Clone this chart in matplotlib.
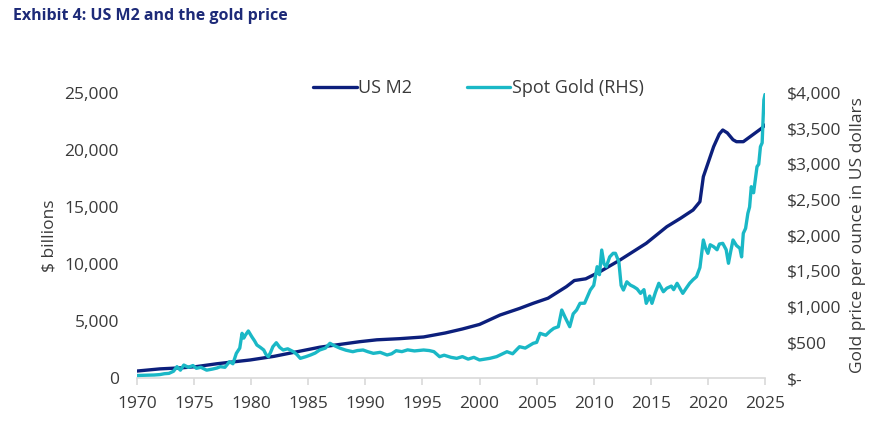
import matplotlib
matplotlib.use("Agg")
import matplotlib.pyplot as plt
from matplotlib.ticker import FuncFormatter

#Data (x = position on the year axis)
m2_years = [1970.0, 1972.0, 1974.0, 1975.2, 1977.0, 1979.9, 1982.0, 1984.0, 1986.0,
            1987.8, 1989.5, 1991.0, 1993.0, 1995.1, 1997.0, 1998.5, 2000.0, 2001.8,
            2003.5, 2004.7, 2006.0, 2007.6, 2008.3, 2009.3, 2010.5, 2012.3, 2014.6,
            2016.4, 2017.6, 2018.7, 2019.3, 2019.6, 2019.9, 2020.5, 2021.0, 2021.3,
            2021.7, 2022.2, 2022.5, 2023.1, 2023.9, 2024.7, 2025.0]
m2_values = [610, 800, 900, 1000, 1250, 1580, 1900, 2300, 2700,
             2950, 3184, 3350, 3450, 3600, 3950, 4300, 4700, 5526,
             6100, 6553, 7000, 8009, 8550, 8700, 9300, 10351, 11816,
             13272, 14009, 14737, 15465, 17658, 18535, 20290, 21400, 21754,
             21500, 20900, 20729, 20729, 21316, 21902, 22193]

gold_years = [1970.0, 1970.5, 1971.0, 1971.5, 1972.0, 1972.4, 1972.8, 1973.2, 1973.5, 1973.8,
              1974.1, 1974.5, 1974.9, 1975.2, 1975.6, 1976.1, 1976.6, 1977.0, 1977.3, 1977.7,
              1978.1, 1978.4, 1978.7, 1979.0, 1979.2, 1979.35, 1979.5, 1979.75, 1980.05, 1980.3,
              1980.5, 1980.8, 1981.1, 1981.3, 1981.5, 1981.7, 1981.9, 1982.2, 1982.5, 1982.8,
              1983.2, 1983.7, 1984.0, 1984.3, 1984.8, 1985.2, 1985.6, 1986.0, 1986.5, 1986.9,
              1987.2, 1987.5, 1987.8, 1988.3, 1988.9, 1989.3, 1989.8, 1990.2, 1990.7, 1991.3,
              1991.9, 1992.3, 1992.7, 1993.2, 1993.7, 1994.3, 1995.1, 1995.6, 1996.0, 1996.5,
              1996.9, 1997.5, 1998.0, 1998.5, 1999.0, 1999.5, 2000.0, 2000.5, 2000.9, 2001.5,
              2001.8, 2002.4, 2002.9, 2003.5, 2004.0, 2004.7, 2005.0, 2005.3, 2005.8, 2006.2,
              2006.5, 2006.9, 2007.2, 2007.5, 2007.9, 2008.2, 2008.5, 2008.8, 2009.2, 2009.7,
              2010.0, 2010.3, 2010.5, 2010.7, 2010.9, 2011.1, 2011.4, 2011.7, 2011.9, 2012.2,
              2012.4, 2012.6, 2012.9, 2013.2, 2013.5, 2013.8, 2014.1, 2014.4, 2014.6, 2014.9,
              2015.1, 2015.4, 2015.7, 2016.1, 2016.4, 2016.8, 2017.0, 2017.3, 2017.8, 2018.1,
              2018.4, 2018.7, 2019.0, 2019.3, 2019.6, 2019.8, 2020.0, 2020.2, 2020.5, 2020.8,
              2021.0, 2021.3, 2021.6, 2021.8, 2022.0, 2022.2, 2022.5, 2022.8, 2022.95, 2023.1,
              2023.3, 2023.5, 2023.65, 2023.8, 2024.0, 2024.3, 2024.45, 2024.6, 2024.75, 2024.9,
              2025.0]
gold_values = [35, 38, 40, 42, 48, 60, 65, 95, 159, 110,
               182, 150, 175, 136, 150, 110, 125, 140, 159, 150,
               229, 200, 346, 420, 627, 560, 603, 660, 580, 520,
               463, 430, 393, 330, 299, 360, 439, 495, 430, 393,
               410, 369, 330, 276, 300, 323, 350, 393, 420, 487,
               460, 439, 417, 390, 369, 385, 393, 370, 346, 360,
               323, 340, 383, 370, 395, 380, 393, 385, 370, 299,
               320, 290, 276, 300, 265, 290, 253, 265, 276, 300,
               323, 369, 340, 439, 420, 487, 500, 627, 600, 660,
               697, 720, 954, 850, 720, 900, 954, 1048, 1050, 1235,
               1300, 1562, 1450, 1796, 1600, 1562, 1700, 1750, 1750, 1632,
               1300, 1235, 1350, 1305, 1281, 1250, 1188, 1240, 1048, 1150,
               1048, 1200, 1329, 1211, 1260, 1290, 1240, 1329, 1188, 1260,
               1329, 1380, 1422, 1550, 1937, 1820, 1750, 1870, 1843, 1800,
               1880, 1890, 1800, 1610, 1780, 1937, 1860, 1820, 1700, 2031,
               2100, 2311, 2400, 2685, 2600, 2966, 3000, 3246, 3300, 3902,
               3980]

year_ticks = list(range(1970, 2030, 5))

navy = "#0c1f7c"
cyan = "#1ab8c6"
text_col = "#3a3a3a"
grid_col = "#d9d9d9"
fs = 12.5

plt.rcParams["font.family"] = ["Open Sans", "DejaVu Sans"]

fig = plt.figure(figsize=(8.86, 4.30), dpi=100)
ax = fig.add_axes([137 / 886, 1 - 378 / 430, (765 - 137) / 886, (378 - 93) / 430])
ax2 = ax.twinx()

l1, = ax.plot(m2_years, m2_values, color=navy, lw=2.4, solid_capstyle="round")
l2, = ax2.plot(gold_years, gold_values, color=cyan, lw=2.4, solid_capstyle="round")

ax.set_xlim(1970, 2025)
ax.set_ylim(0, 25000)
ax2.set_ylim(0, 4000)
ax.set_xticks(year_ticks)
ax.set_yticks(range(0, 25001, 5000))
ax2.set_yticks(range(0, 4001, 500))
ax.yaxis.set_major_formatter(FuncFormatter(lambda v, p: f"{v:,.0f}"))
ax2.yaxis.set_major_formatter(FuncFormatter(lambda v, p: "$-" if v == 0 else f"${v:,.0f}"))

for a in (ax, ax2):
    for s in a.spines.values():
        s.set_visible(False)
ax.spines["bottom"].set_visible(True)
ax.spines["bottom"].set_color(grid_col)
ax.spines["bottom"].set_linewidth(1.2)

ax.tick_params(axis="x", length=5, width=1.2, color=grid_col, pad=8, labelsize=fs, labelcolor=text_col)
ax.tick_params(axis="y", length=0, pad=13, labelsize=fs, labelcolor=text_col)
ax2.tick_params(axis="y", length=0, pad=16, labelsize=fs, labelcolor=text_col)

ax.set_ylabel("$ billions", fontsize=fs, color=text_col, labelpad=5)
ax2.set_ylabel("Gold price per ounce in US dollars", fontsize=fs, color=text_col, labelpad=6)

fig.legend([l1, l2], ["US M2", "Spot Gold (RHS)"], loc="center", bbox_to_anchor=(0.54, 1 - 88 / 430),
           ncol=2, frameon=False, fontsize=13, handlelength=2.4, handletextpad=0.1,
           columnspacing=3.0, labelcolor=text_col)

fig.text(13 / 886, 1 - 16 / 430, "Exhibit 4: US M2 and the gold price", fontsize=11.5,
         fontweight="bold", color="#1d2a78", va="center", ha="left")

fig.savefig("out.png", dpi=100)
